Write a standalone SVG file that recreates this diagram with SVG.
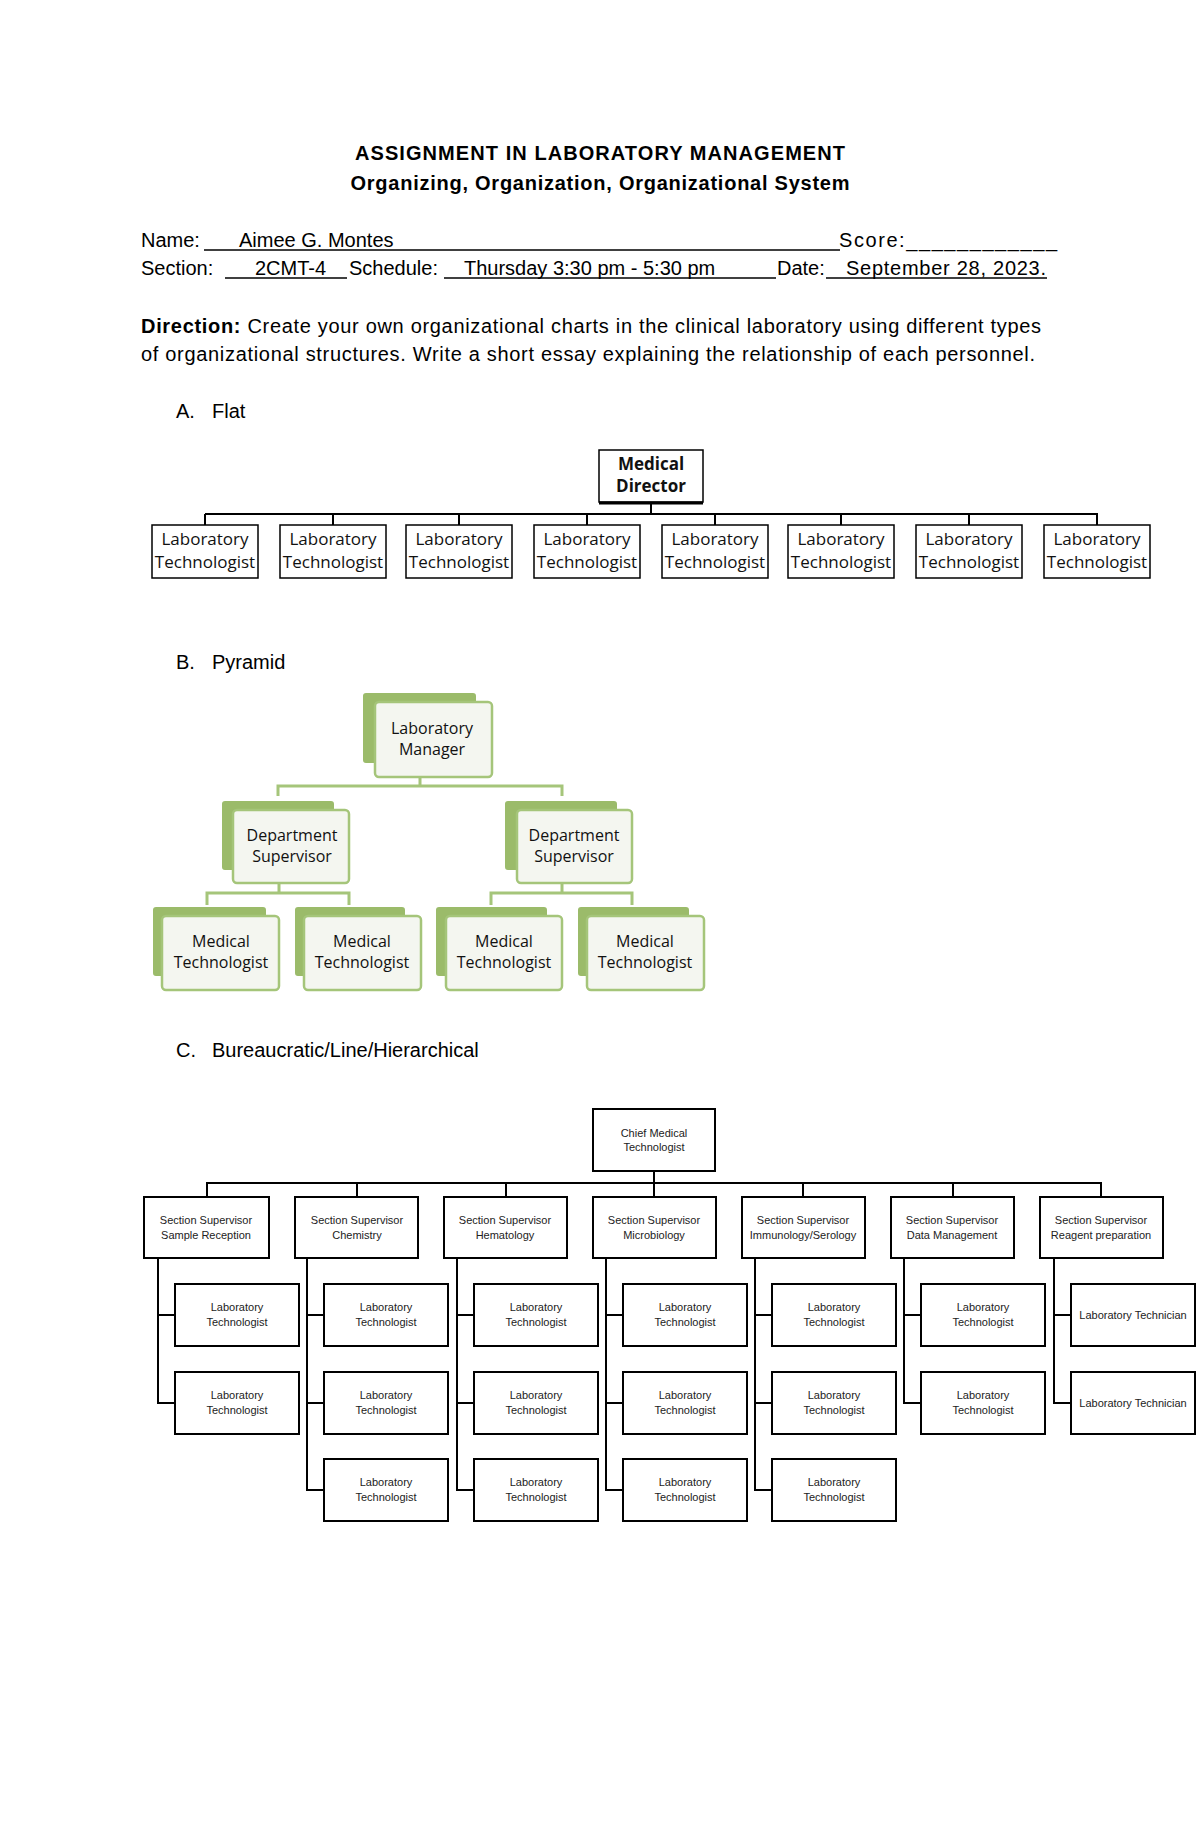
<svg xmlns="http://www.w3.org/2000/svg" width="1200" height="1835" viewBox="0 0 1200 1835">
<style>
.t{font-family:"Liberation Sans",Arial,sans-serif;font-size:20px;fill:#000}
.b{font-weight:bold}
.ul{stroke:#000;stroke-width:1.5}
.fb{fill:#fff;stroke:#000;stroke-width:1.5}
.ft{font-family:"Open Sans","Liberation Sans",sans-serif;font-size:17px;fill:#111;text-anchor:middle}
.pb{fill:#9bbb6a;stroke:#fff;stroke-width:2}
.pf{fill:#f4f6f0;stroke:#a5c57a;stroke-width:2.5}
.pt{font-family:"Open Sans","Liberation Sans",sans-serif;font-size:16px;fill:#111;text-anchor:middle}
.pl{stroke:#a5c57a;stroke-width:3;fill:none}
.cb{fill:#fff;stroke:#000;stroke-width:2}
.ct{font-family:"Liberation Sans Narrow","Liberation Sans",sans-serif;font-size:11px;fill:#222;text-anchor:middle}
.cl{stroke:#000;stroke-width:2;fill:none}
.fl{stroke:#000;stroke-width:2;fill:none}
</style>
<text class="t b" x="600" y="160" text-anchor="middle" font-size="19" textLength="490">ASSIGNMENT IN LABORATORY MANAGEMENT</text>
<text class="t b" x="600" y="190" text-anchor="middle" font-size="19" textLength="499">Organizing, Organization, Organizational System</text>
<text class="t" x="141" y="247">Name:</text>
<text class="t" x="239" y="247">Aimee G. Montes</text>
<line class="ul" x1="204" y1="250" x2="840" y2="250"/>
<text class="t" x="839" y="247" textLength="218">Score:____________</text>
<text class="t" x="141" y="275">Section:</text>
<line class="ul" x1="225" y1="278" x2="347" y2="278"/>
<text class="t" x="255" y="275">2CMT-4</text>
<text class="t" x="349" y="275">Schedule:</text>
<line class="ul" x1="444" y1="278" x2="776" y2="278"/>
<text class="t" x="464" y="275">Thursday 3:30 pm - 5:30 pm</text>
<text class="t" x="777" y="275">Date:</text>
<line class="ul" x1="826" y1="278" x2="1047" y2="278"/>
<text class="t" x="846" y="275" textLength="200">September 28, 2023.</text>
<text class="t" x="141" y="333" textLength="900"><tspan class="b">Direction:</tspan> Create your own organizational charts in the clinical laboratory using different types</text>
<text class="t" x="141" y="361" textLength="894">of organizational structures. Write a short essay explaining the relationship of each personnel.</text>
<text class="t" x="176" y="418">A.</text><text class="t" x="212" y="418">Flat</text>

<g id="flat-connectors">
<line class="fl" x1="651" y1="503" x2="651" y2="514"/>
<line class="fl" x1="205" y1="514" x2="1098" y2="514"/>
<g class="fl"><path d="M205 514V525M333 514V525M459 514V525M587 514V525M715 514V525M841 514V525M969 514V525M1097 514V525"/></g>
</g>
<g id="medical-director"><rect class="fb" x="599" y="450" width="104" height="52"/><line stroke="#000" stroke-width="3" x1="599" y1="503" x2="703" y2="503"/>
<text class="ft b" x="651" y="470">Medical</text><text class="ft b" x="651" y="492">Director</text></g>
<g id="flat-techs">
<g id="ft1"><rect class="fb" x="152" y="525" width="106" height="53"/><text class="ft" x="205" y="545">Laboratory</text><text class="ft" x="205" y="568">Technologist</text></g>
<g id="ft2"><rect class="fb" x="280" y="525" width="106" height="53"/><text class="ft" x="333" y="545">Laboratory</text><text class="ft" x="333" y="568">Technologist</text></g>
<g id="ft3"><rect class="fb" x="406" y="525" width="106" height="53"/><text class="ft" x="459" y="545">Laboratory</text><text class="ft" x="459" y="568">Technologist</text></g>
<g id="ft4"><rect class="fb" x="534" y="525" width="106" height="53"/><text class="ft" x="587" y="545">Laboratory</text><text class="ft" x="587" y="568">Technologist</text></g>
<g id="ft5"><rect class="fb" x="662" y="525" width="106" height="53"/><text class="ft" x="715" y="545">Laboratory</text><text class="ft" x="715" y="568">Technologist</text></g>
<g id="ft6"><rect class="fb" x="788" y="525" width="106" height="53"/><text class="ft" x="841" y="545">Laboratory</text><text class="ft" x="841" y="568">Technologist</text></g>
<g id="ft7"><rect class="fb" x="916" y="525" width="106" height="53"/><text class="ft" x="969" y="545">Laboratory</text><text class="ft" x="969" y="568">Technologist</text></g>
<g id="ft8"><rect class="fb" x="1044" y="525" width="106" height="53"/><text class="ft" x="1097" y="545">Laboratory</text><text class="ft" x="1097" y="568">Technologist</text></g>
</g>

<text class="t" x="176" y="669">B.</text><text class="t" x="212" y="669">Pyramid</text>
<g id="pyramid-connectors">
<path class="pl" d="M420 777V786M278 796V786H562V796"/>
<path class="pl" d="M279 883V893M207 905V893H349V905"/>
<path class="pl" d="M562 883V893M491 905V893H632V905"/>
</g>
<g id="lab-manager"><rect class="pb" x="362" y="692" width="115" height="72" rx="4"/><rect class="pf" x="375" y="702" width="117" height="75" rx="4"/><text class="pt" x="432" y="734">Laboratory</text><text class="pt" x="432" y="755">Manager</text></g>
<g id="dept-sup-1"><rect class="pb" x="221" y="800" width="114" height="71" rx="4"/><rect class="pf" x="233" y="810" width="116" height="73" rx="4"/><text class="pt" x="292" y="841">Department</text><text class="pt" x="292" y="862">Supervisor</text></g>
<g id="dept-sup-2"><rect class="pb" x="504" y="800" width="114" height="71" rx="4"/><rect class="pf" x="517" y="810" width="115" height="73" rx="4"/><text class="pt" x="574" y="841">Department</text><text class="pt" x="574" y="862">Supervisor</text></g>
<g id="med-tech-1"><rect class="pb" x="152" y="906" width="115" height="71" rx="4"/><rect class="pf" x="162" y="916" width="117" height="74" rx="4"/><text class="pt" x="221" y="947">Medical</text><text class="pt" x="221" y="968">Technologist</text></g>
<g id="med-tech-2"><rect class="pb" x="294" y="906" width="112" height="71" rx="4"/><rect class="pf" x="304" y="916" width="117" height="74" rx="4"/><text class="pt" x="362" y="947">Medical</text><text class="pt" x="362" y="968">Technologist</text></g>
<g id="med-tech-3"><rect class="pb" x="435" y="906" width="113" height="71" rx="4"/><rect class="pf" x="446" y="916" width="116" height="74" rx="4"/><text class="pt" x="504" y="947">Medical</text><text class="pt" x="504" y="968">Technologist</text></g>
<g id="med-tech-4"><rect class="pb" x="577" y="906" width="113" height="71" rx="4"/><rect class="pf" x="587" y="916" width="117" height="74" rx="4"/><text class="pt" x="645" y="947">Medical</text><text class="pt" x="645" y="968">Technologist</text></g>

<text class="t" x="176" y="1057">C.</text><text class="t" x="212" y="1057">Bureaucratic/Line/Hierarchical</text>
<g id="bureau-connectors">
<path class="cl" d="M654 1171V1183M207 1197V1183H1101V1197M357 1183V1197M506 1183V1197M654 1183V1197M803 1183V1197M953 1183V1197"/>
<path class="cl" d="M158 1258V1403H175M158 1315H175"/>
<path class="cl" d="M307 1258V1490H324M307 1315H324M307 1403H324"/>
<path class="cl" d="M457 1258V1490H474M457 1315H474M457 1403H474"/>
<path class="cl" d="M606 1258V1490H623M606 1315H623M606 1403H623"/>
<path class="cl" d="M755 1258V1490H772M755 1315H772M755 1403H772"/>
<path class="cl" d="M904 1258V1403H921M904 1315H921"/>
<path class="cl" d="M1054 1258V1403H1071M1054 1315H1071"/>
</g>
<g id="chief"><rect class="cb" x="593" y="1109" width="122" height="62"/><text class="ct" x="654" y="1137">Chief Medical</text><text class="ct" x="654" y="1151">Technologist</text></g>
<g id="sup-sample"><rect class="cb" x="144" y="1197" width="125" height="61"/><text class="ct" x="206" y="1224">Section Supervisor</text><text class="ct" x="206" y="1239">Sample Reception</text></g>
<g id="sup-chem"><rect class="cb" x="295" y="1197" width="123" height="61"/><text class="ct" x="357" y="1224">Section Supervisor</text><text class="ct" x="357" y="1239">Chemistry</text></g>
<g id="sup-hema"><rect class="cb" x="444" y="1197" width="123" height="61"/><text class="ct" x="505" y="1224">Section Supervisor</text><text class="ct" x="505" y="1239">Hematology</text></g>
<g id="sup-micro"><rect class="cb" x="593" y="1197" width="123" height="61"/><text class="ct" x="654" y="1224">Section Supervisor</text><text class="ct" x="654" y="1239">Microbiology</text></g>
<g id="sup-immuno"><rect class="cb" x="742" y="1197" width="123" height="61"/><text class="ct" x="803" y="1224">Section Supervisor</text><text class="ct" x="803" y="1239">Immunology/Serology</text></g>
<g id="sup-data"><rect class="cb" x="891" y="1197" width="123" height="61"/><text class="ct" x="952" y="1224">Section Supervisor</text><text class="ct" x="952" y="1239">Data Management</text></g>
<g id="sup-reagent"><rect class="cb" x="1040" y="1197" width="123" height="61"/><text class="ct" x="1101" y="1224">Section Supervisor</text><text class="ct" x="1101" y="1239">Reagent preparation</text></g>
<g id="techs">
<g id="t0a"><rect class="cb" x="175" y="1284" width="124" height="62"/><text class="ct" x="237" y="1311">Laboratory</text><text class="ct" x="237" y="1326">Technologist</text></g>
<g id="t0b"><rect class="cb" x="175" y="1372" width="124" height="62"/><text class="ct" x="237" y="1399">Laboratory</text><text class="ct" x="237" y="1414">Technologist</text></g>
<g id="t1a"><rect class="cb" x="324" y="1284" width="124" height="62"/><text class="ct" x="386" y="1311">Laboratory</text><text class="ct" x="386" y="1326">Technologist</text></g>
<g id="t1b"><rect class="cb" x="324" y="1372" width="124" height="62"/><text class="ct" x="386" y="1399">Laboratory</text><text class="ct" x="386" y="1414">Technologist</text></g>
<g id="t1c"><rect class="cb" x="324" y="1459" width="124" height="62"/><text class="ct" x="386" y="1486">Laboratory</text><text class="ct" x="386" y="1501">Technologist</text></g>
<g id="t2a"><rect class="cb" x="474" y="1284" width="124" height="62"/><text class="ct" x="536" y="1311">Laboratory</text><text class="ct" x="536" y="1326">Technologist</text></g>
<g id="t2b"><rect class="cb" x="474" y="1372" width="124" height="62"/><text class="ct" x="536" y="1399">Laboratory</text><text class="ct" x="536" y="1414">Technologist</text></g>
<g id="t2c"><rect class="cb" x="474" y="1459" width="124" height="62"/><text class="ct" x="536" y="1486">Laboratory</text><text class="ct" x="536" y="1501">Technologist</text></g>
<g id="t3a"><rect class="cb" x="623" y="1284" width="124" height="62"/><text class="ct" x="685" y="1311">Laboratory</text><text class="ct" x="685" y="1326">Technologist</text></g>
<g id="t3b"><rect class="cb" x="623" y="1372" width="124" height="62"/><text class="ct" x="685" y="1399">Laboratory</text><text class="ct" x="685" y="1414">Technologist</text></g>
<g id="t3c"><rect class="cb" x="623" y="1459" width="124" height="62"/><text class="ct" x="685" y="1486">Laboratory</text><text class="ct" x="685" y="1501">Technologist</text></g>
<g id="t4a"><rect class="cb" x="772" y="1284" width="124" height="62"/><text class="ct" x="834" y="1311">Laboratory</text><text class="ct" x="834" y="1326">Technologist</text></g>
<g id="t4b"><rect class="cb" x="772" y="1372" width="124" height="62"/><text class="ct" x="834" y="1399">Laboratory</text><text class="ct" x="834" y="1414">Technologist</text></g>
<g id="t4c"><rect class="cb" x="772" y="1459" width="124" height="62"/><text class="ct" x="834" y="1486">Laboratory</text><text class="ct" x="834" y="1501">Technologist</text></g>
<g id="t5a"><rect class="cb" x="921" y="1284" width="124" height="62"/><text class="ct" x="983" y="1311">Laboratory</text><text class="ct" x="983" y="1326">Technologist</text></g>
<g id="t5b"><rect class="cb" x="921" y="1372" width="124" height="62"/><text class="ct" x="983" y="1399">Laboratory</text><text class="ct" x="983" y="1414">Technologist</text></g>
<g id="t6a"><rect class="cb" x="1071" y="1284" width="124" height="62"/><text class="ct" x="1133" y="1319">Laboratory Technician</text></g>
<g id="t6b"><rect class="cb" x="1071" y="1372" width="124" height="62"/><text class="ct" x="1133" y="1407">Laboratory Technician</text></g>
</g>
</svg>
